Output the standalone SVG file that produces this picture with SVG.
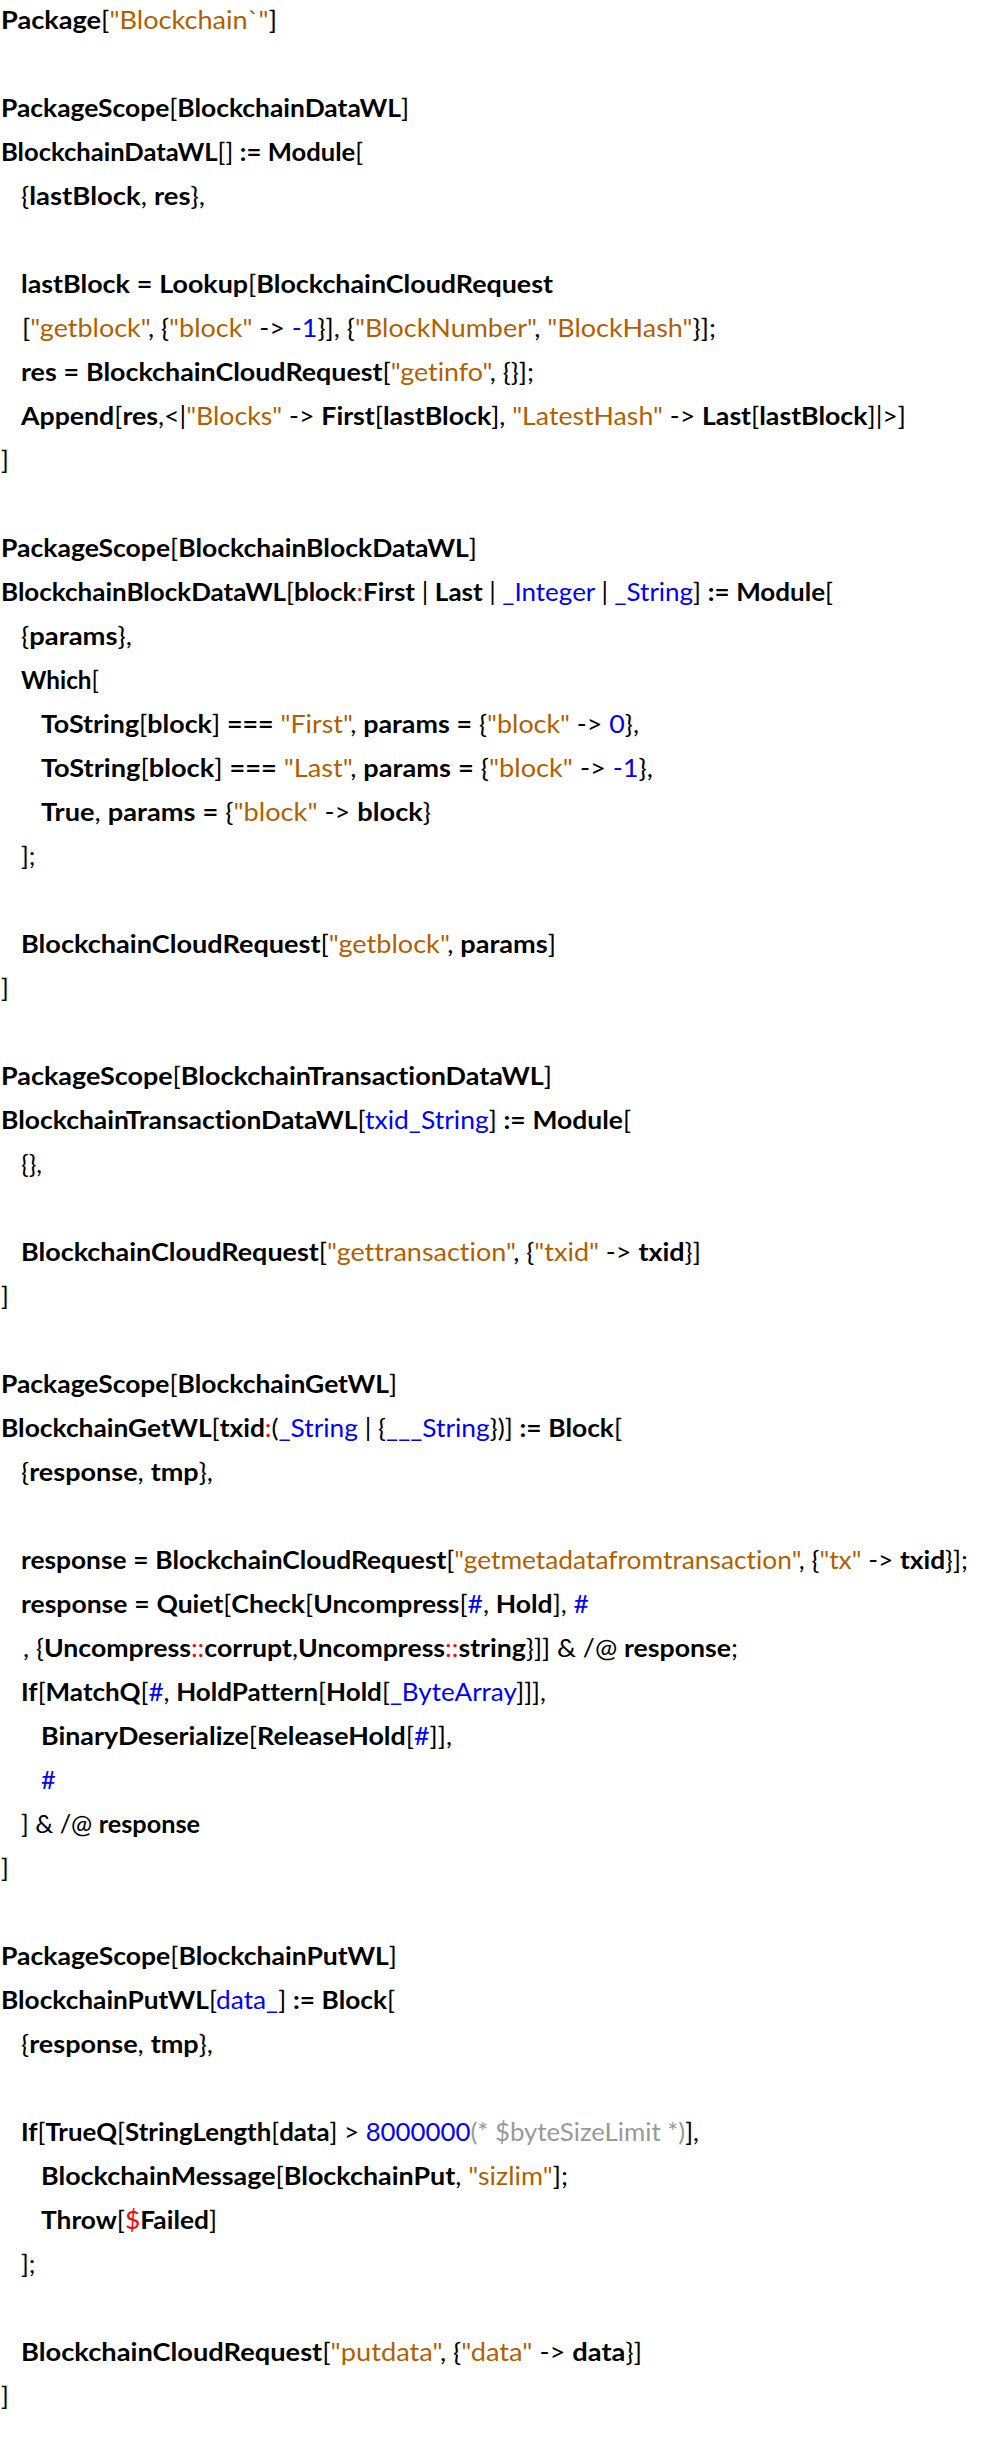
<svg xmlns="http://www.w3.org/2000/svg" width="982" height="2458" viewBox="0 0 982 2458">
<style>
text { font-family: "Lato", "Noto Sans", "Liberation Sans", sans-serif; font-size: 25.5px; font-weight: 400; fill: #000; font-variant-ligatures: none; font-feature-settings: "liga" 0, "clig" 0, "dlig" 0; }
.b { font-weight: 700; }
.s { fill: #b35f00; }
.u { fill: #0000ff; }
.x { fill: #ff0000; }
.c { fill: #999999; }
</style>
<rect x="0" y="0" width="982" height="2458" fill="#ffffff"/>
<g id="package">
<text x="1" y="28.5" textLength="276" lengthAdjust="spacingAndGlyphs"><tspan class="b">Package</tspan>[<tspan class="s">"Blockchain`"</tspan>]</text>
</g>
<g id="block-data">
<text x="1" y="116.5" textLength="408" lengthAdjust="spacingAndGlyphs"><tspan class="b">PackageScope</tspan>[<tspan class="b">BlockchainDataWL</tspan>]</text>
<text x="1" y="160.5" textLength="362" lengthAdjust="spacingAndGlyphs"><tspan class="b">BlockchainDataWL</tspan>[] <tspan class="b">:=</tspan> <tspan class="b">Module</tspan>[</text>
<text x="21" y="204.5" textLength="184" lengthAdjust="spacingAndGlyphs">{<tspan class="b">lastBlock</tspan>, <tspan class="b">res</tspan>},</text>
<text x="21" y="292.5" textLength="532" lengthAdjust="spacingAndGlyphs"><tspan class="b">lastBlock</tspan> <tspan class="b">=</tspan> <tspan class="b">Lookup</tspan>[<tspan class="b">BlockchainCloudRequest</tspan></text>
<text x="22" y="336.5" textLength="694" lengthAdjust="spacingAndGlyphs">[<tspan class="s">"getblock"</tspan>, {<tspan class="s">"block"</tspan> -&gt; <tspan class="u">-1</tspan>}], {<tspan class="s">"BlockNumber"</tspan>, <tspan class="s">"BlockHash"</tspan>}];</text>
<text x="21" y="380.5" textLength="513" lengthAdjust="spacingAndGlyphs"><tspan class="b">res</tspan> <tspan class="b">=</tspan> <tspan class="b">BlockchainCloudRequest</tspan>[<tspan class="s">"getinfo"</tspan>, {}];</text>
<text x="21" y="424.5" textLength="885" lengthAdjust="spacingAndGlyphs"><tspan class="b">Append</tspan>[<tspan class="b">res</tspan>,&lt;|<tspan class="s">"Blocks"</tspan> -&gt; <tspan class="b">First</tspan>[<tspan class="b">lastBlock</tspan>], <tspan class="s">"LatestHash"</tspan> -&gt; <tspan class="b">Last</tspan>[<tspan class="b">lastBlock</tspan>]|&gt;]</text>
<text x="1" y="468.5">]</text>
</g>
<g id="block-blockdata">
<text x="1" y="556.5" textLength="476" lengthAdjust="spacingAndGlyphs"><tspan class="b">PackageScope</tspan>[<tspan class="b">BlockchainBlockDataWL</tspan>]</text>
<text x="1" y="600.5" textLength="832" lengthAdjust="spacingAndGlyphs"><tspan class="b">BlockchainBlockDataWL</tspan>[<tspan class="b">block</tspan><tspan class="x">:</tspan><tspan class="b">First</tspan> | <tspan class="b">Last</tspan> | <tspan class="u">_Integer</tspan> | <tspan class="u">_String</tspan>] <tspan class="b">:=</tspan> <tspan class="b">Module</tspan>[</text>
<text x="21" y="644.5" textLength="111" lengthAdjust="spacingAndGlyphs">{<tspan class="b">params</tspan>},</text>
<text x="21" y="688.5" textLength="78" lengthAdjust="spacingAndGlyphs"><tspan class="b">Which</tspan>[</text>
<text x="41" y="732.5" textLength="598" lengthAdjust="spacingAndGlyphs"><tspan class="b">ToString</tspan>[<tspan class="b">block</tspan>] <tspan class="b">===</tspan> <tspan class="s">"First"</tspan>, <tspan class="b">params</tspan> <tspan class="b">=</tspan> {<tspan class="s">"block"</tspan> -&gt; <tspan class="u">0</tspan>},</text>
<text x="41" y="776.5" textLength="612" lengthAdjust="spacingAndGlyphs"><tspan class="b">ToString</tspan>[<tspan class="b">block</tspan>] <tspan class="b">===</tspan> <tspan class="s">"Last"</tspan>, <tspan class="b">params</tspan> <tspan class="b">=</tspan> {<tspan class="s">"block"</tspan> -&gt; <tspan class="u">-1</tspan>},</text>
<text x="41" y="820.5" textLength="390" lengthAdjust="spacingAndGlyphs"><tspan class="b">True</tspan>, <tspan class="b">params</tspan> <tspan class="b">=</tspan> {<tspan class="s">"block"</tspan> -&gt; <tspan class="b">block</tspan>}</text>
<text x="21" y="864.5">];</text>
<text x="21" y="952.5" textLength="535" lengthAdjust="spacingAndGlyphs"><tspan class="b">BlockchainCloudRequest</tspan>[<tspan class="s">"getblock"</tspan>, <tspan class="b">params</tspan>]</text>
<text x="1" y="996.5">]</text>
</g>
<g id="block-transaction">
<text x="1" y="1084.5" textLength="551" lengthAdjust="spacingAndGlyphs"><tspan class="b">PackageScope</tspan>[<tspan class="b">BlockchainTransactionDataWL</tspan>]</text>
<text x="1" y="1128.5" textLength="630" lengthAdjust="spacingAndGlyphs"><tspan class="b">BlockchainTransactionDataWL</tspan>[<tspan class="u">txid_String</tspan>] <tspan class="b">:=</tspan> <tspan class="b">Module</tspan>[</text>
<text x="21" y="1172.5">{},</text>
<text x="21" y="1260.5" textLength="680" lengthAdjust="spacingAndGlyphs"><tspan class="b">BlockchainCloudRequest</tspan>[<tspan class="s">"gettransaction"</tspan>, {<tspan class="s">"txid"</tspan> -&gt; <tspan class="b">txid</tspan>}]</text>
<text x="1" y="1304.5">]</text>
</g>
<g id="block-get">
<text x="1" y="1392.5" textLength="396" lengthAdjust="spacingAndGlyphs"><tspan class="b">PackageScope</tspan>[<tspan class="b">BlockchainGetWL</tspan>]</text>
<text x="1" y="1436.5" textLength="621" lengthAdjust="spacingAndGlyphs"><tspan class="b">BlockchainGetWL</tspan>[<tspan class="b">txid</tspan><tspan class="x">:</tspan>(<tspan class="u">_String</tspan> | {<tspan class="u">___String</tspan>})] <tspan class="b">:=</tspan> <tspan class="b">Block</tspan>[</text>
<text x="21" y="1480.5" textLength="192" lengthAdjust="spacingAndGlyphs">{<tspan class="b">response</tspan>, <tspan class="b">tmp</tspan>},</text>
<text x="21" y="1568.5" textLength="947" lengthAdjust="spacingAndGlyphs"><tspan class="b">response</tspan> <tspan class="b">=</tspan> <tspan class="b">BlockchainCloudRequest</tspan>[<tspan class="s">"getmetadatafromtransaction"</tspan>, {<tspan class="s">"tx"</tspan> -&gt; <tspan class="b">txid</tspan>}];</text>
<text x="21" y="1612.5" textLength="568" lengthAdjust="spacingAndGlyphs"><tspan class="b">response</tspan> <tspan class="b">=</tspan> <tspan class="b">Quiet</tspan>[<tspan class="b">Check</tspan>[<tspan class="b">Uncompress</tspan>[<tspan class="u">#</tspan>, <tspan class="b">Hold</tspan>], <tspan class="u">#</tspan></text>
<text x="23" y="1656.5" textLength="715" lengthAdjust="spacingAndGlyphs">, {<tspan class="b">Uncompress</tspan><tspan class="x">::</tspan><tspan class="b">corrupt</tspan>,<tspan class="b">Uncompress</tspan><tspan class="x">::</tspan><tspan class="b">string</tspan>}]] &amp; /@ <tspan class="b">response</tspan>;</text>
<text x="21" y="1700.5" textLength="525" lengthAdjust="spacingAndGlyphs"><tspan class="b">If</tspan>[<tspan class="b">MatchQ</tspan>[<tspan class="u">#</tspan>, <tspan class="b">HoldPattern</tspan>[<tspan class="b">Hold</tspan>[<tspan class="u">_ByteArray</tspan>]]],</text>
<text x="41" y="1744.5" textLength="411" lengthAdjust="spacingAndGlyphs"><tspan class="b">BinaryDeserialize</tspan>[<tspan class="b">ReleaseHold</tspan>[<tspan class="u">#</tspan>]],</text>
<text x="41" y="1788.5" class="u">#</text>
<text x="21" y="1832.5" textLength="179" lengthAdjust="spacingAndGlyphs">] &amp; /@ <tspan class="b">response</tspan></text>
<text x="1" y="1876.5">]</text>
</g>
<g id="block-put">
<text x="1" y="1964.5" textLength="396" lengthAdjust="spacingAndGlyphs"><tspan class="b">PackageScope</tspan>[<tspan class="b">BlockchainPutWL</tspan>]</text>
<text x="1" y="2008.5" textLength="394" lengthAdjust="spacingAndGlyphs"><tspan class="b">BlockchainPutWL</tspan>[<tspan class="u">data_</tspan>] <tspan class="b">:=</tspan> <tspan class="b">Block</tspan>[</text>
<text x="21" y="2052.5" textLength="192" lengthAdjust="spacingAndGlyphs">{<tspan class="b">response</tspan>, <tspan class="b">tmp</tspan>},</text>
<text x="21" y="2140.5" textLength="678" lengthAdjust="spacingAndGlyphs"><tspan class="b">If</tspan>[<tspan class="b">TrueQ</tspan>[<tspan class="b">StringLength</tspan>[<tspan class="b">data</tspan>] &gt; <tspan class="u">8000000</tspan><tspan class="c">(* $byteSizeLimit *)</tspan>],</text>
<text x="41" y="2184.5" textLength="527" lengthAdjust="spacingAndGlyphs"><tspan class="b">BlockchainMessage</tspan>[<tspan class="b">BlockchainPut</tspan>, <tspan class="s">"sizlim"</tspan>];</text>
<text x="41" y="2228.5" textLength="176" lengthAdjust="spacingAndGlyphs"><tspan class="b">Throw</tspan>[<tspan class="x">$</tspan><tspan class="b">Failed</tspan>]</text>
<text x="21" y="2272.5">];</text>
<text x="21" y="2360.5" textLength="621" lengthAdjust="spacingAndGlyphs"><tspan class="b">BlockchainCloudRequest</tspan>[<tspan class="s">"putdata"</tspan>, {<tspan class="s">"data"</tspan> -&gt; <tspan class="b">data</tspan>}]</text>
<text x="1" y="2404.5">]</text>
</g>
</svg>
